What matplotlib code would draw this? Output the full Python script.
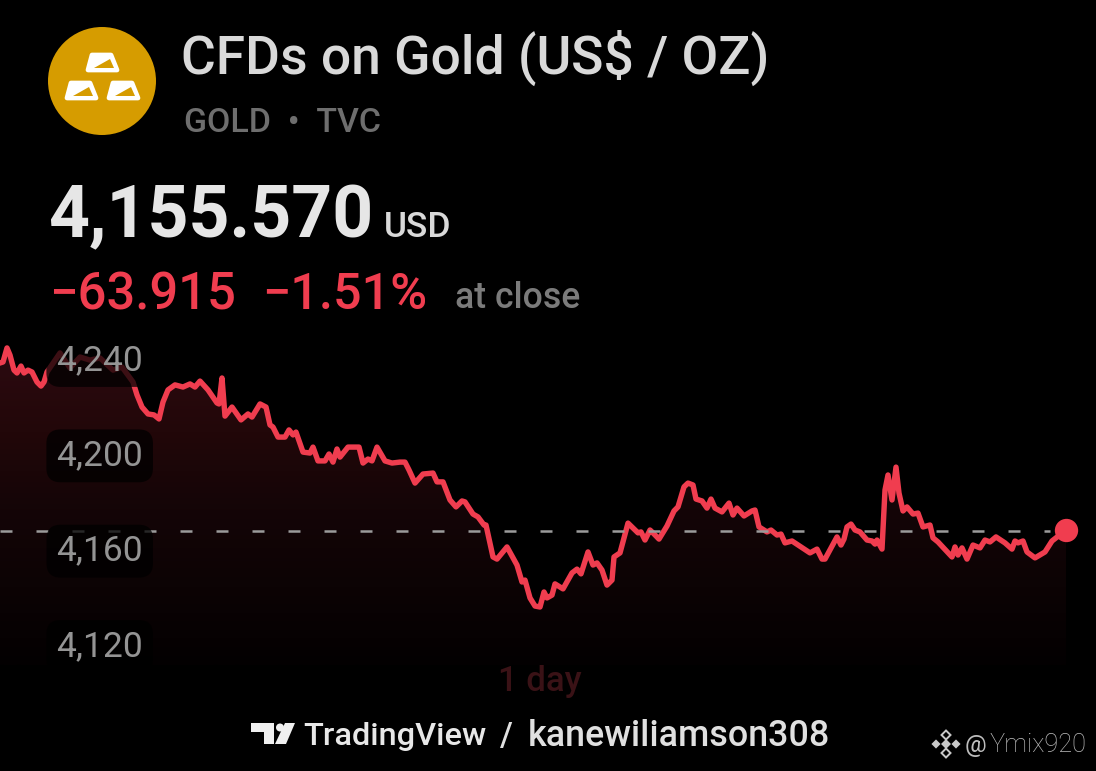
import numpy as np
import matplotlib
matplotlib.use("Agg")
import matplotlib.pyplot as plt
from matplotlib.patches import Circle, Polygon
from matplotlib.colors import LinearSegmentedColormap

plt.rcParams['font.family'] = ['Roboto', 'DejaVu Sans']

# ---- data -------------------------------------------------------------
minutes = [0,3,7,10,14,17,21,24,28,32,37,41,44,47,60,70,80,90,100,113,122,133,
           137,142,148,154,159,163,168,175,183,190,195,200,208,217,219,222,225,232,241,248,252,260,266,270,273,
           278,285,289,293,296,303,310,313,318,325,329,333,337,340,348,359,363,368,372,377,385,392,
           400,405,409,415,423,433,437,443,450,456,462,465,473,478,484,486,493,497,507,517,522,525,530,535,540,
           544,547,552,555,563,572,577,581,588,593,597,602,607,612,614,620,628,638,641,645,650,653,659,667,674,678,
           684,688,693,696,702,707,711,715,722,729,733,737,744,752,755,759,767,771,777,781,785,792,810,817,822,825,
           837,841,844,847,851,855,860,867,872,875,877,882,885,888,892,896,899,903,907,913,918,923,930,933,938,952,
           955,958,962,967,973,980,985,990,996,1005,1012,1015,1018,1023,1027,1035,1045,1052,1066]
prices = [4237.5,4237.9,4243.8,4240.8,4234.5,4233.3,4236.2,4233.3,4234.5,4233.7,4229.5,4227.8,4229.5,4233.7,
          4241.7,4235.4,4240.0,4238.7,4239.6,4234.5,4235.8,4229.5,
          4224.1,4219.0,4216.1,4215.7,4214.0,4221.1,4226.2,4228.3,4227.4,4228.7,4227.4,4229.9,4226.2,4220.7,4220.3,4231.2,4215.2,4219.0,4213.6,4216.1,4214.8,4220.3,4219.0,4211.5,4210.6,
          4206.4,4206.4,4209.4,4207.3,4208.5,4200.1,4199.7,4202.2,4196.4,4196.4,4199.3,4195.9,4201.4,4198.0,4202.2,4202.2,4195.5,4197.2,4196.4,4202.2,4196.4,4195.5,
          4195.9,4195.9,4192.6,4187.1,4190.9,4191.3,4187.6,4187.6,4180.0,4177.1,4179.6,4179.2,4174.1,4172.9,4169.5,4169.5,4156.1,4155.2,4160.3,4152.7,4145.6,4146.4,4138.9,4135.5,4135.1,
          4141.4,4138.9,4140.1,4144.8,4142.7,4149.4,4151.0,4149.0,4158.2,4152.7,4153.6,4150.6,4144.3,4146.4,4156.1,4157.8,4170.3,4166.2,4166.6,4163.2,4167.4,4166.2,4163.6,4169.1,4175.4,4177.1,
          4185.5,4187.1,4186.3,4180.4,4179.6,4176.6,4180.4,4176.6,4175.0,4178.7,4173.7,4176.6,4173.3,4175.4,4175.8,4168.7,4166.6,4167.4,4165.3,4165.7,4162.0,4162.8,4157.8,4159.4,4155.2,4155.2,
          4164.5,4161.1,4163.6,4168.7,4169.9,4167.4,4166.6,4163.2,4162.8,4161.5,4163.2,4159.4,4184.2,4190.5,4180.0,4193.8,4182.9,4175.4,4177.1,4174.1,4174.5,4168.7,4169.5,4164.1,4162.4,4156.1,
          4160.3,4156.9,4159.9,4155.2,4161.1,4159.9,4163.2,4162.4,4164.5,4162.0,4159.4,4162.8,4162.0,4162.8,4158.2,4155.7,4158.2,4162.8,4167.4]
prev_close = 4167.0
last_price = 4167.4
y_ticks = [4240, 4200, 4160, 4120]
y_tick_labels = ["4,240", "4,200", "4,160", "4,120"]

W, H = 1096, 771
RED = '#f03d4f'
fig = plt.figure(figsize=(W/100, H/100), dpi=100, facecolor='black')

# ---- chart axes: pixel rows 330..665 ---------------------------------
top_px, bot_px = 330, 665
ax = fig.add_axes([0, 1-bot_px/H, 1, (bot_px-top_px)/H], facecolor='black')
p_per_px = 40/95.33
ax.set_xlim(0, W)
ax.set_ylim(4240-(bot_px-357)*p_per_px, 4240+(357-top_px)*p_per_px)
for s in ax.spines.values():
    s.set_visible(False)
ax.set_xticks([])

# gradient area under the line
cmap = LinearSegmentedColormap.from_list('fade', ['#2c0a10', '#220709', '#140507', '#0c0304', '#030001'])
y0, y1 = ax.get_ylim()
poly = ax.fill_between(minutes, prices, y0, color='none', lw=0)
img = ax.imshow(np.linspace(0, 1, 256)[:, None], cmap=cmap, aspect='auto',
                extent=[0, W, y0, 4240+3*p_per_px], origin='upper', zorder=1)
img.set_clip_path(poly.get_paths()[0], transform=ax.transData)
ax.set_xlim(0, W)
ax.set_ylim(y0, y1)

ax.plot(minutes, prices, color=RED, lw=3.9, solid_joinstyle='round', zorder=2)
ax.plot([0, 1050], [prev_close, prev_close], color='#9b9b9b', lw=1.8,
        linestyle=(0, (4.8, 9.6)), dash_capstyle='butt', zorder=3)
ax.plot([minutes[-1]], [last_price], 'o', color=RED, ms=16.8, mew=0, zorder=4)

ax.set_axisbelow(False)
ax.set_yticks(y_ticks, y_tick_labels)
ax.tick_params(axis='y', length=0, pad=-103, labelsize=25.5, labelcolor='#949494')
for lab in ax.get_yticklabels():
    lab.set_zorder(6)
    lab.set_bbox(dict(boxstyle='round,pad=0.28,rounding_size=0.4', fc='black', ec='none', alpha=0.75))
ax.yaxis.set_zorder(6)

# ---- overlay in pixel coordinates -------------------------------------
ov = fig.add_axes([0, 0, 1, 1], facecolor='none')
ov.set_xlim(0, W)
ov.set_ylim(H, 0)
ov.axis('off')

def T(x, y, s, size, color, weight='medium', ha='left', **kw):
    ov.text(x, y, s, fontsize=size, color=color, fontweight=weight, ha=ha, va='baseline', **kw)

# logo
GOLD = '#d69c00'
ov.add_patch(Circle((102, 81), 54, fc=GOLD, ec='none'))
def bar(dx, dy):
    ov.add_patch(Polygon([(92+dx, 55+dy), (111+dx, 55+dy), (117+dx, 70+dy), (88+dx, 70+dy)],
                         closed=True, fc='white', ec='white', lw=3.4, joinstyle='round'))
    ov.add_patch(Polygon([(94+dx, 68+dy), (110+dx, 59+dy), (114+dx, 68+dy)],
                         closed=True, fc=GOLD, ec='none'))
bar(0, 0); bar(-21, 28); bar(21, 28)

T(181, 74, "CFDs on Gold (US$ / OZ)", 38.4, '#d9d9d9')
T(183.5, 131.5, "GOLD  \u2022  TVC", 24.4, '#6e6e6e')
T(48, 237, "4,155.570", 51.5, '#e6e6e6', weight='bold')
T(383.5, 237, "USD", 25.5, '#d9d9d9')
T(49, 309, "\u221263.915", 36.5, RED)
T(262, 309, "\u22121.51%", 36.3, RED)
T(455, 308, "at close", 25.6, '#7b7b7b')
T(498, 691, "1 day", 25, '#3a1216')

# TradingView mark
LOGO = '#f0f0f0'
ov.add_patch(Polygon([(251, 723), (274, 723), (274, 744), (264, 744), (264, 732), (251, 732)], fc=LOGO, ec='none'))
ov.add_patch(Circle((280, 727.5), 4, fc=LOGO, ec='none'))
ov.add_patch(Polygon([(285, 723), (295, 723), (286, 744), (275, 744)], fc=LOGO, ec='none'))
T(303, 745, "TradingView", 23.4, '#e8e8e8')
T(500, 746, "/", 23.5, '#e0e0e0')
T(528, 746, "kanewiliamson308", 25.8, '#e0e0e0')

# Binance-style mark + watermark
c = (946, 744)
for dx, dy, r in [(0, -9, 4.5), (0, 9, 4.5), (-10, 0, 3.2), (10, 0, 3.2), (0, 0, 3.6)]:
    ov.add_patch(Polygon([(c[0]+dx, c[1]+dy-r), (c[0]+dx+r, c[1]+dy), (c[0]+dx, c[1]+dy+r), (c[0]+dx-r, c[1]+dy)],
                         fc='none' if r == 4.5 else '#c9c9c9', ec='#c9c9c9', lw=1.4))
T(965, 752, "@", 17.5, '#bdbdbd', weight='normal')
T(990, 752, "Ymix920", 18.3, '#bdbdbd', weight='light')

fig.savefig('out.png', dpi=100, facecolor='black')
